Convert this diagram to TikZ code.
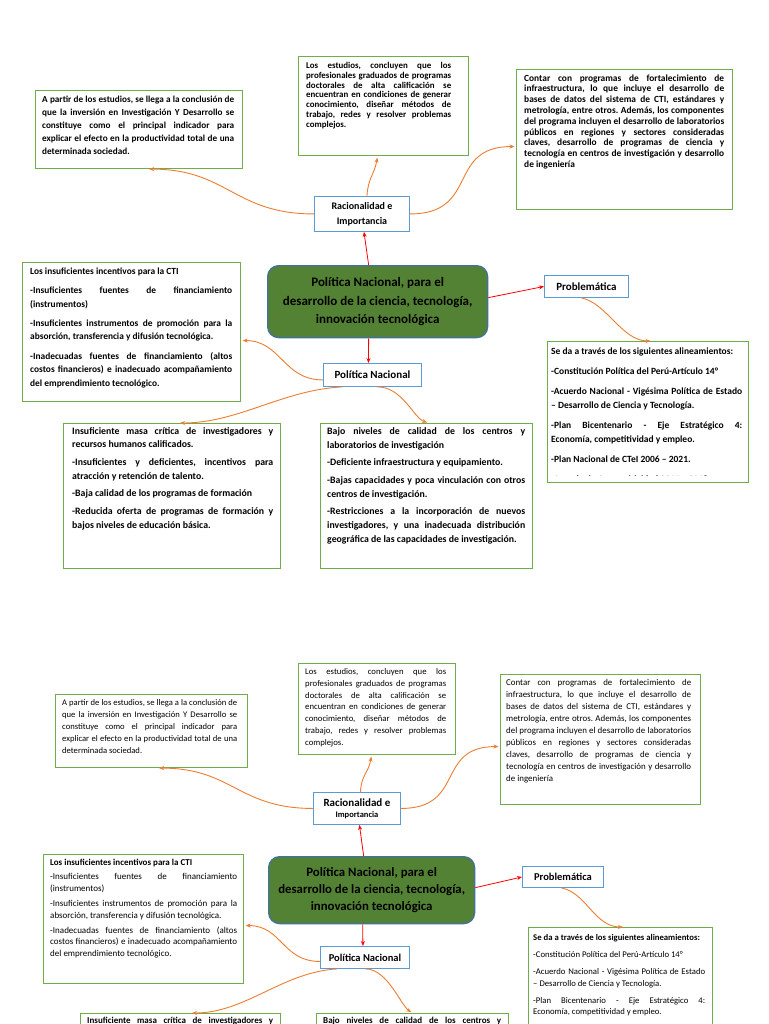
\documentclass[tikz,border=0pt]{standalone}
\usepackage{fontspec}
\setmainfont{Carlito}
\usetikzlibrary{arrows.meta,positioning}
\definecolor{leaf}{HTML}{70AD47}
\definecolor{sky}{HTML}{5B9BD5}
\definecolor{moss}{HTML}{548235}
\definecolor{steel}{HTML}{41719C}
\definecolor{ember}{HTML}{ED7D31}
\newcommand{\txtsize}[3]{\fontsize{#1}{#2}\selectfont\frenchspacing\parskip=#3pt\parindent=0pt\hyphenpenalty=10000\tolerance=10000}

\begin{document}
\begin{tikzpicture}[x=1pt,y=-1pt,>={Stealth[length=5pt,width=4pt]},
 box/.style={draw=leaf,line width=1.1pt,anchor=north west,inner sep=0pt},
 tag/.style={draw=sky,line width=0.9pt,fill=white,anchor=north west,inner sep=0pt,align=center},
 hub/.style={draw=steel,fill=moss,line width=1.3pt,rounded corners=11pt,anchor=north west,inner sep=0pt,align=center},
 txt/.style={anchor=north west,inner sep=0pt,align=justify},
 link/.style={draw=ember,line width=0.9pt,shorten >=1.5pt,->},
 push/.style={draw=red,line width=0.8pt,->}]
\fill[white] (0,0) rectangle (768,1024);
\useasboundingbox (0,0) rectangle (768,1024);

% upper map
\node[box,minimum width=207pt,minimum height=78pt] (topA) at (35,90) {};
\node[txt,text width=192pt,font=\bfseries\txtsize{9.2}{12.8}{0}] (topAtxt) at ([shift={(7,6.3)}]topA.north west)
 {A partir de los estudios, se llega a la conclusión de\linebreak que la inversión en Investigación Y Desarrollo se\linebreak constituye como el principal indicador para\linebreak explicar el efecto en la productividad total de una\linebreak determinada sociedad.};
\node[box,minimum width=170pt,minimum height=99pt] (topB) at (298,56) {};
\node[txt,text width=145pt,font=\bfseries\txtsize{8.9}{9.9}{0}] (topBtxt) at ([shift={(8,5.8)}]topB.north west)
 {Los estudios, concluyen que los\linebreak profesionales graduados de programas\linebreak doctorales de alta calificación se\linebreak encuentran en condiciones de generar\linebreak conocimiento, diseñar métodos de\linebreak trabajo, redes y resolver problemas\linebreak complejos.};
\node[box,minimum width=216pt,minimum height=140pt] (topC) at (516,69) {};
\node[txt,text width=200pt,font=\bfseries\txtsize{9.4}{10.8}{0}] (topCtxt) at ([shift={(8,5.3)}]topC.north west)
 {Contar con programas de fortalecimiento de\linebreak infraestructura, lo que incluye el desarrollo de\linebreak bases de datos del sistema de CTI, estándares y\linebreak metrología, entre otros. Además, los componentes\linebreak del programa incluyen el desarrollo de laboratorios\linebreak públicos en regiones y sectores consideradas\linebreak claves, desarrollo de programas de ciencia y\linebreak tecnología en centros de investigación y desarrollo\linebreak de ingeniería};
\node[tag,minimum width=95pt,minimum height=35pt,font=\bfseries\fontsize{10}{15}\selectfont] (topRac) at (314,196) {Racionalidad e\\Importancia};
\node[hub,minimum width=220pt,minimum height=72pt,font=\bfseries\fontsize{13}{18.5}\selectfont] (topHub) at (267,265)
 {Política Nacional, para el\\desarrollo de la ciencia, tecnología,\\innovación tecnológica};
\node[box,minimum width=218pt,minimum height=139pt] (topD) at (22,262) {};
\node[txt,text width=202pt,font=\bfseries\txtsize{9.4}{13.7}{5.5}] (topDtxt) at ([shift={(8,5.3)}]topD.north west)
 {Los insuficientes incentivos para la CTI\par
 -Insuficientes fuentes de financiamiento\linebreak (instrumentos)\par
 -Insuficientes instrumentos de promoción para la\linebreak absorción, transferencia y difusión tecnológica.\par
 -Inadecuadas fuentes de financiamiento (altos\linebreak costos financieros) e inadecuado acompañamiento\linebreak del emprendimiento tecnológico.};
\node[tag,minimum width=84pt,minimum height=22pt,font=\bfseries\fontsize{11}{13}\selectfont] (topProb) at (544,275) {Problemática};
\node[box,minimum width=201pt,minimum height=141pt] (topE) at (547,341) {};
% the last line only peeks out above the clip; its words are a guess
\begin{scope}
\clip (topE.north west) rectangle ([yshift=8pt]topE.south east);
\node[txt,text width=191pt,font=\bfseries\txtsize{9.5}{14}{6}] (topEtxt) at ([shift={(4,6.3)}]topE.north west)
 {Se da a través de los siguientes alineamientos:\par
 -Constitución Política del Perú-Artículo 14°\par
 -Acuerdo Nacional - Vigésima Política de Estado\linebreak – Desarrollo de Ciencia y Tecnología.\par
 -Plan Bicentenario - Eje Estratégico 4:\linebreak Economía, competitividad y empleo.\par
 -Plan Nacional de CTeI 2006 – 2021.\par
 -Agenda de Competitividad 2014 – 2018.};
\end{scope}
\node[tag,minimum width=98pt,minimum height=23pt,font=\bfseries\fontsize{11}{13}\selectfont] (topPN) at (323,363) {Política Nacional};
\node[box,minimum width=217pt,minimum height=145pt] (topF) at (63,423) {};
\node[txt,text width=201pt,font=\bfseries\txtsize{9.8}{13.5}{4.3}] (topFtxt) at ([shift={(9,4.3)}]topF.north west)
 {Insuficiente masa crítica de investigadores y\linebreak recursos humanos calificados.\par
 -Insuficientes y deficientes, incentivos para\linebreak atracción y retención de talento.\par
 -Baja calidad de los programas de formación\par
 -Reducida oferta de programas de formación y\linebreak bajos niveles de educación básica.};
\node[box,minimum width=212pt,minimum height=145pt] (topG) at (320,423) {};
\node[txt,text width=198pt,font=\bfseries\txtsize{9.8}{13.7}{4}] (topGtxt) at ([shift={(7,4.3)}]topG.north west)
 {Bajo niveles de calidad de los centros y\linebreak laboratorios de investigación\par
 -Deficiente infraestructura y equipamiento.\par
 -Bajas capacidades y poca vinculación con otros\linebreak centros de investigación.\par
 -Restricciones a la incorporación de nuevos\linebreak investigadores, y una inadecuada distribución\linebreak geográfica de las capacidades de investigación.};

\draw[push] ([xshift=-9pt]topHub.north) -- ([xshift=2pt]topRac.south);
\draw[push] ([yshift=4pt]topHub.east) -- (topProb.west);
\draw[push] ([xshift=-9pt]topHub.south) -- ([xshift=-4pt]topPN.north);
\draw[link] (topRac.west) .. controls +(-80,0) and +(80,0) .. ([xshift=8.5pt]topA.south);
\draw[link] ([xshift=5pt]topRac.north) .. controls +(1,-18) and +(-3,18) .. ([xshift=-6pt]topB.south);
\draw[link] (topRac.east) .. controls +(70,0) and +(-70,0) .. ([yshift=-7pt]topC.west);
\draw[link] ([xshift=-5pt]topProb.south) .. controls +(25,5) and +(-30,0) .. ([xshift=4pt]topE.north);
\draw[link] ([yshift=-5pt]topPN.west) .. controls +(-40,0) and +(40,0) .. ([yshift=-8.5pt]topD.east);
\draw[link] ([xshift=-30pt]topPN.south) .. controls +(-60,3) and +(60,0) .. ([xshift=6.5pt]topF.north);
\draw[link] ([xshift=5pt]topPN.south) .. controls +(25,0) and +(-15,-5) .. ([xshift=2pt]topG.north);

% lower map
\node[box,minimum width=192pt,minimum height=73pt] (lowA) at (55,694) {};
\node[txt,text width=175pt,font=\txtsize{8.6}{12.1}{0}] (lowAtxt) at ([shift={(7,4.9)}]lowA.north west)
 {A partir de los estudios, se llega a la conclusión de\linebreak que la inversión en Investigación Y Desarrollo se\linebreak constituye como el principal indicador para\linebreak explicar el efecto en la productividad total de una\linebreak determinada sociedad.};
\node[box,minimum width=157pt,minimum height=91pt] (lowB) at (298,663) {};
\node[txt,text width=141pt,font=\txtsize{8.7}{11.7}{0}] (lowBtxt) at ([shift={(7,5.6)}]lowB.north west)
 {Los estudios, concluyen que los\linebreak profesionales graduados de programas\linebreak doctorales de alta calificación se\linebreak encuentran en condiciones de generar\linebreak conocimiento, diseñar métodos de\linebreak trabajo, redes y resolver problemas\linebreak complejos.};
\node[box,minimum width=200pt,minimum height=130pt] (lowC) at (500,674) {};
\node[txt,text width=185pt,font=\txtsize{8.9}{12}{0}] (lowCtxt) at ([shift={(6,5.5)}]lowC.north west)
 {Contar con programas de fortalecimiento de\linebreak infraestructura, lo que incluye el desarrollo de\linebreak bases de datos del sistema de CTI, estándares y\linebreak metrología, entre otros. Además, los componentes\linebreak del programa incluyen el desarrollo de laboratorios\linebreak públicos en regiones y sectores consideradas\linebreak claves, desarrollo de programas de ciencia y\linebreak tecnología en centros de investigación y desarrollo\linebreak de ingeniería};
\node[tag,minimum width=87pt,minimum height=32pt,font=\bfseries] (lowRac) at (313,792)
 {{\fontsize{11}{13}\selectfont Racionalidad e}\\[-1pt]{\fontsize{8.5}{10}\selectfont Importancia}};
\node[hub,minimum width=206pt,minimum height=67pt,font=\bfseries\fontsize{12.8}{17}\selectfont] (lowHub) at (268,856)
 {Política Nacional, para el\\desarrollo de la ciencia, tecnología,\\innovación tecnológica};
\node[box,minimum width=200pt,minimum height=129pt] (lowD) at (43,854) {};
\node[txt,text width=187pt,font=\txtsize{9}{11.8}{3}] (lowDtxt) at ([shift={(7,4.5)}]lowD.north west)
 {{\bfseries Los insuficientes incentivos para la CTI}\par
 -Insuficientes fuentes de financiamiento\linebreak (instrumentos)\par
 -Insuficientes instrumentos de promoción para la\linebreak absorción, transferencia y difusión tecnológica.\par
 -Inadecuadas fuentes de financiamiento (altos\linebreak costos financieros) e inadecuado acompañamiento\linebreak del emprendimiento tecnológico.};
\node[tag,minimum width=81pt,minimum height=21pt,font=\bfseries\fontsize{10.5}{12}\selectfont] (lowProb) at (522,866) {Problemática};
\node[box,minimum width=184pt,minimum height=130pt] (lowE) at (528,927) {};
\node[txt,text width=172pt,font=\txtsize{8.7}{11.5}{5.5}] (lowEtxt) at ([shift={(5,7.5)}]lowE.north west)
 {{\bfseries Se da a través de los siguientes alineamientos:}\par
 -Constitución Política del Perú-Artículo 14°\par
 -Acuerdo Nacional - Vigésima Política de Estado\linebreak – Desarrollo de Ciencia y Tecnología.\par
 -Plan Bicentenario - Eje Estratégico 4:\linebreak Economía, competitividad y empleo.};
\node[tag,minimum width=89pt,minimum height=22pt,font=\bfseries\fontsize{10.5}{12}\selectfont] (lowPN) at (320,946) {Política Nacional};
\node[box,minimum width=200pt,minimum height=100pt] (lowF) at (80,1013) {};
\node[txt,text width=186pt,font=\bfseries\txtsize{9}{12}{0}] (lowFtxt) at ([shift={(7,3.5)}]lowF.north west)
 {Insuficiente masa crítica de investigadores y\linebreak recursos humanos calificados.};
\node[box,minimum width=192pt,minimum height=100pt] (lowG) at (316,1013) {};
\node[txt,text width=178pt,font=\bfseries\txtsize{9}{12}{0}] (lowGtxt) at ([shift={(7,3.5)}]lowG.north west)
 {Bajo niveles de calidad de los centros y\linebreak laboratorios de investigación};

\draw[push] ([xshift=-8pt]lowHub.north) -- ([xshift=2.5pt]lowRac.south);
\draw[push] ([yshift=2.5pt]lowHub.east) -- (lowProb.west);
\draw[push] ([xshift=-9pt]lowHub.south) -- ([xshift=-2pt]lowPN.north);
\draw[link] (lowRac.west) .. controls +(-75,0) and +(75,0) .. ([xshift=6pt]lowA.south);
\draw[link] ([xshift=3.5pt]lowRac.north) .. controls +(1,-18) and +(-3,18) .. ([xshift=-5.5pt]lowB.south);
\draw[link] (lowRac.east) .. controls +(65,0) and +(-65,0) .. ([yshift=-7pt]lowC.west);
\draw[link] ([xshift=-1.5pt]lowProb.south) .. controls +(25,5) and +(-30,0) .. ([xshift=4pt]lowE.north);
\draw[link] ([yshift=-4pt]lowPN.west) .. controls +(-38,0) and +(38,0) .. ([yshift=-6.5pt]lowD.east);
\draw[link] ([xshift=-27.5pt]lowPN.south) .. controls +(-55,3) and +(55,0) .. ([xshift=10pt]lowF.north);
\draw[link] ([xshift=0.5pt]lowPN.south) .. controls +(22,0) and +(-12,-8) .. (lowG.north);
\end{tikzpicture}
\end{document}
